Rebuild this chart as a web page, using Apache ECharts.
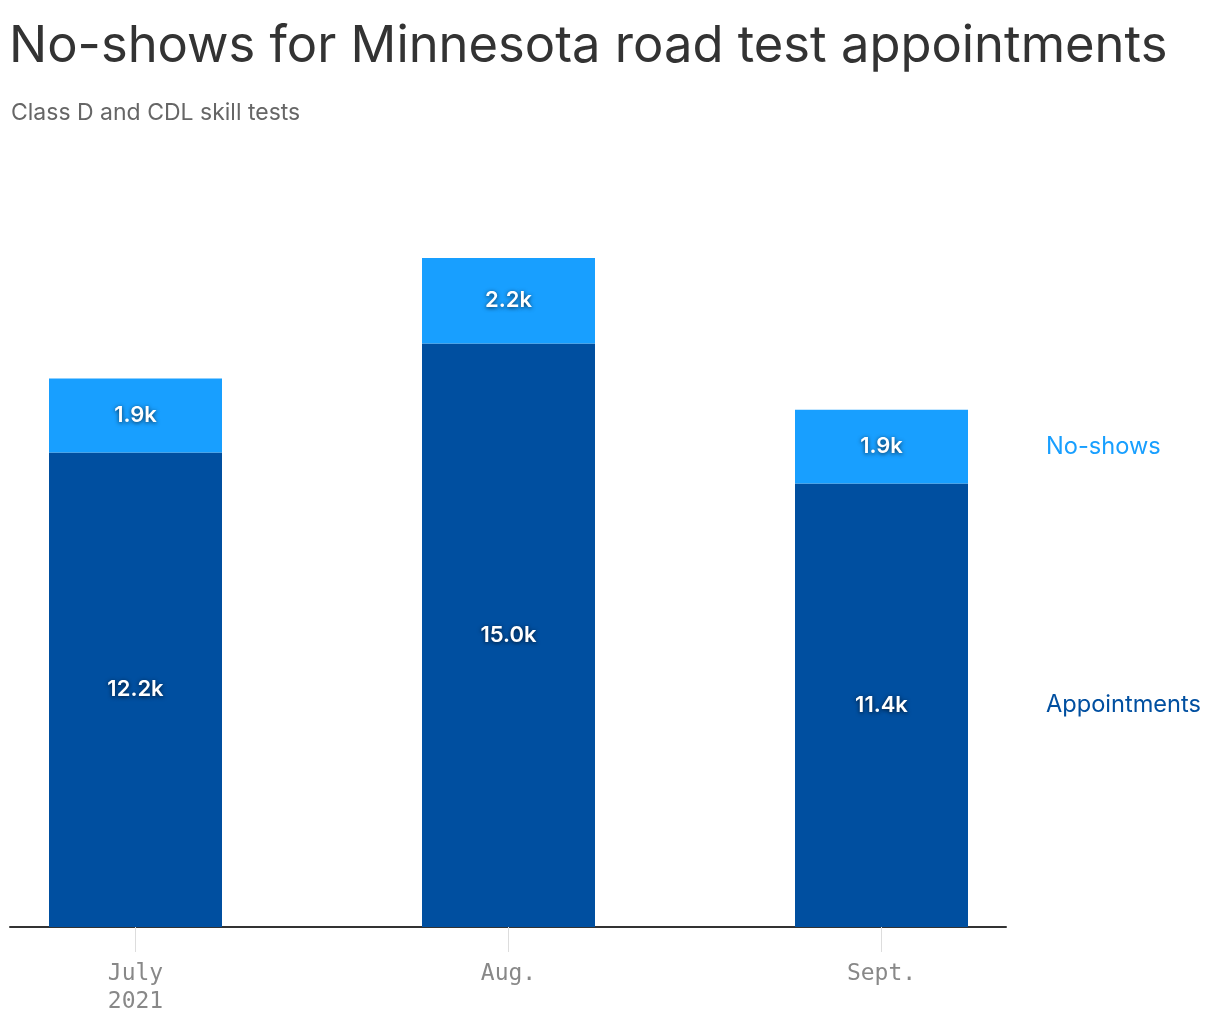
<!DOCTYPE html>
<html>
<head>
<meta charset="utf-8">
<script src="https://cdn.jsdelivr.net/npm/echarts@6/dist/echarts.min.js"></script>
<style>
html,body{margin:0;padding:0;background:#fff;}
#chart{width:1220px;height:1020px;}
</style>
</head>
<body>
<div id="chart"></div>
<script>
const categories = ['July\n2021', 'Aug.', 'Sept.'];
const appointments = [12200, 15000, 11400];
const noShows = [1900, 2200, 1900];
const seriesNames = ['Appointments', 'No-shows'];
const titleText = 'No-shows for Minnesota road test appointments';
const subtitleText = 'Class D and CDL skill tests';

const darkBlue = '#004fa0';
const lightBlue = '#189fff';
const fmtK = v => (v / 1000).toFixed(1) + 'k';
const lastIdx = categories.length - 1;

const valueLabel = {
  show: true,
  position: 'inside',
  color: '#fff',
  fontFamily: 'Inter',
  fontWeight: 600,
  fontSize: 22,
  textShadowColor: 'rgba(0,0,0,0.7)',
  textShadowBlur: 4,
  textShadowOffsetY: 1,
  formatter: p => fmtK(p.value)
};

const nameLabel = (color) => ({
  show: true,
  position: 'right',
  distance: 78,
  color: color,
  fontFamily: 'Inter',
  fontSize: 23.6,
  formatter: p => p.dataIndex === lastIdx ? p.seriesName : ''
});

const chart = echarts.init(document.getElementById('chart'), null, {renderer: 'canvas'});
chart.setOption({
  animation: false,
  backgroundColor: '#fff',
  title: [
    {text: titleText, left: 4, top: 10,
     textStyle: {fontFamily: 'Inter', fontWeight: 400, fontSize: 50.7, lineHeight: 64, color: '#333'}},
    {text: subtitleText, left: 6, top: 94,
     textStyle: {fontFamily: 'Inter', fontWeight: 400, fontSize: 23, lineHeight: 28, color: '#666'}}
  ],
  grid: [
    {left: -51, right: 152, top: 149, bottom: 93, containLabel: false, outerBoundsMode: 'none'},
    {left: 10, right: 214, top: 149, bottom: 93, containLabel: false, outerBoundsMode: 'none'}
  ],
  xAxis: [
    {type: 'category', gridIndex: 0, data: categories,
     axisLine: {show: false},
     axisTick: {show: true, alignWithLabel: true, length: 25, lineStyle: {color: '#ddd', width: 1}},
     axisLabel: {fontFamily: 'DejaVu Sans Mono', fontSize: 23, color: '#888', lineHeight: 28, margin: 33, align: 'center'}},
    {type: 'value', gridIndex: 1, min: 0, max: 1,
     axisLine: {show: true, onZero: false, lineStyle: {color: '#333', width: 2}},
     axisTick: {show: false}, axisLabel: {show: false}, splitLine: {show: false}}
  ],
  yAxis: [
    {type: 'value', gridIndex: 0, min: 0, max: 20000, show: false, splitLine: {show: false}},
    {type: 'value', gridIndex: 1, min: 0, max: 1, show: false, splitLine: {show: false}}
  ],
  series: [
    {name: seriesNames[0], type: 'bar', stack: 'a', data: appointments, barWidth: 173, barGap: '-100%',
     itemStyle: {color: darkBlue}, label: valueLabel},
    {name: seriesNames[1], type: 'bar', stack: 'a', data: noShows, barWidth: 173, barGap: '-100%',
     itemStyle: {color: lightBlue}, label: valueLabel},
    {name: seriesNames[0], type: 'bar', stack: 'b', data: appointments, barWidth: 173, barGap: '-100%',
     itemStyle: {color: 'rgba(0,0,0,0)'}, silent: true, label: nameLabel(darkBlue)},
    {name: seriesNames[1], type: 'bar', stack: 'b', data: noShows, barWidth: 173, barGap: '-100%',
     itemStyle: {color: 'rgba(0,0,0,0)'}, silent: true, label: nameLabel(lightBlue)}
  ]
});
</script>
</body>
</html>
